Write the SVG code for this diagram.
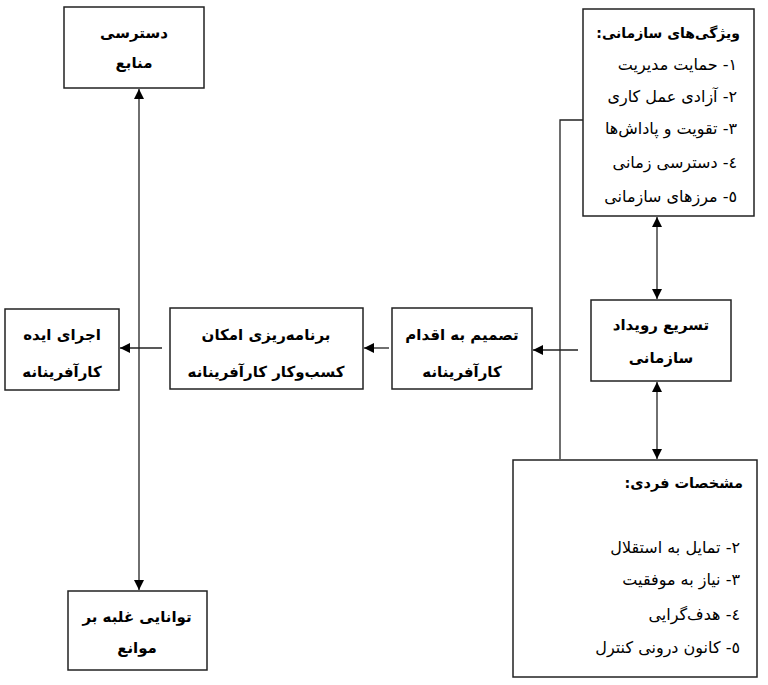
<svg xmlns="http://www.w3.org/2000/svg" width="768" height="685" viewBox="0 0 768 685">
<style>
.box{fill:#fff;stroke:#222;stroke-width:1.5}
.ln{fill:none;stroke:#222;stroke-width:1.3}
text{font-family:"DejaVu Sans",sans-serif;font-size:15px;fill:#000}
.b{font-weight:bold}
.c{text-anchor:middle}
.r{text-anchor:start}
.it{font-size:16px}
.t1{font-size:14px}
.t2{font-size:14.5px}
</style>
<defs>
<marker id="ah" viewBox="0 0 10 10" refX="10" refY="5" markerWidth="10" markerHeight="10" markerUnits="userSpaceOnUse" orient="auto-start-reverse">
<path d="M0,0 L10,5 L0,10 z" fill="#000"/>
</marker>
</defs>
<rect width="768" height="685" fill="#fff"/>
<g id="connectors">
<line class="ln" x1="139" y1="89" x2="139" y2="590" marker-start="url(#ah)" marker-end="url(#ah)"/>
<line class="ln" x1="162" y1="348" x2="120" y2="348" marker-end="url(#ah)"/>
<line class="ln" x1="389" y1="348" x2="364" y2="348" marker-end="url(#ah)"/>
<line class="ln" x1="578" y1="350" x2="533" y2="350" marker-end="url(#ah)"/>
<polyline class="ln" points="583,120 560,120 560,459"/>
<line class="ln" x1="657" y1="217" x2="657" y2="299" marker-start="url(#ah)" marker-end="url(#ah)"/>
<line class="ln" x1="657" y1="382" x2="657" y2="459" marker-start="url(#ah)" marker-end="url(#ah)"/>
</g>
<g id="n-resources">
<rect class="box" x="64" y="7" width="140" height="81"/>
<text class="b c" x="134" y="38" direction="rtl">دسترسی</text>
<text class="b c" x="134" y="68" direction="rtl">منابع</text>
</g>
<g id="n-org">
<rect class="box" x="583" y="9" width="171" height="207"/>
<text class="b r t1" x="740" y="38" direction="rtl">ویژگی‌های سازمانی:</text>
<text class="r it" x="737" y="70" direction="rtl">۱- حمایت مدیریت</text>
<text class="r it" x="737" y="102" direction="rtl">۲- آزادی عمل کاری</text>
<text class="r it" x="737" y="134" direction="rtl">۳- تقویت و پاداش‌ها</text>
<text class="r it" x="737" y="168" direction="rtl">٤- دسترسی زمانی</text>
<text class="r it" x="737" y="202" direction="rtl">٥- مرزهای سازمانی</text>
</g>
<g id="n-implement">
<rect class="box" x="5" y="309" width="114" height="81"/>
<text class="b c" x="62" y="340" direction="rtl">اجرای ایده</text>
<text class="b c" x="62" y="377" direction="rtl">کارآفرینانه</text>
</g>
<g id="n-planning">
<rect class="box" x="170" y="308" width="193" height="81"/>
<text class="b c" x="266" y="340" direction="rtl">برنامه‌ریزی امکان</text>
<text class="b c" x="266" y="377" direction="rtl">کسب‌وکار کارآفرینانه</text>
</g>
<g id="n-decision">
<rect class="box" x="392" y="308" width="140" height="81"/>
<text class="b c" x="462" y="340" direction="rtl">تصمیم به اقدام</text>
<text class="b c" x="462" y="377" direction="rtl">کارآفرینانه</text>
</g>
<g id="n-trigger">
<rect class="box" x="591" y="300" width="140" height="81"/>
<text class="b c" x="661" y="330" direction="rtl">تسریع رویداد</text>
<text class="b c" x="661" y="363" direction="rtl">سازمانی</text>
</g>
<g id="n-personal">
<rect class="box" x="513" y="460" width="244" height="217"/>
<text class="b r t2" x="743" y="488" direction="rtl">مشخصات فردی:</text>
<text class="r it" x="740" y="553" direction="rtl">۲- تمایل به استقلال</text>
<text class="r it" x="740" y="585" direction="rtl">۳- نیاز به موفقیت</text>
<text class="r it" x="740" y="620" direction="rtl">٤- هدف‌گرایی</text>
<text class="r it" x="740" y="653" direction="rtl">٥- کانون درونی کنترل</text>
</g>
<g id="n-overcome">
<rect class="box" x="68" y="591" width="139" height="79"/>
<text class="b c" x="137" y="622" direction="rtl">توانایی غلبه بر</text>
<text class="b c" x="137" y="653" direction="rtl">موانع</text>
</g>
</svg>
